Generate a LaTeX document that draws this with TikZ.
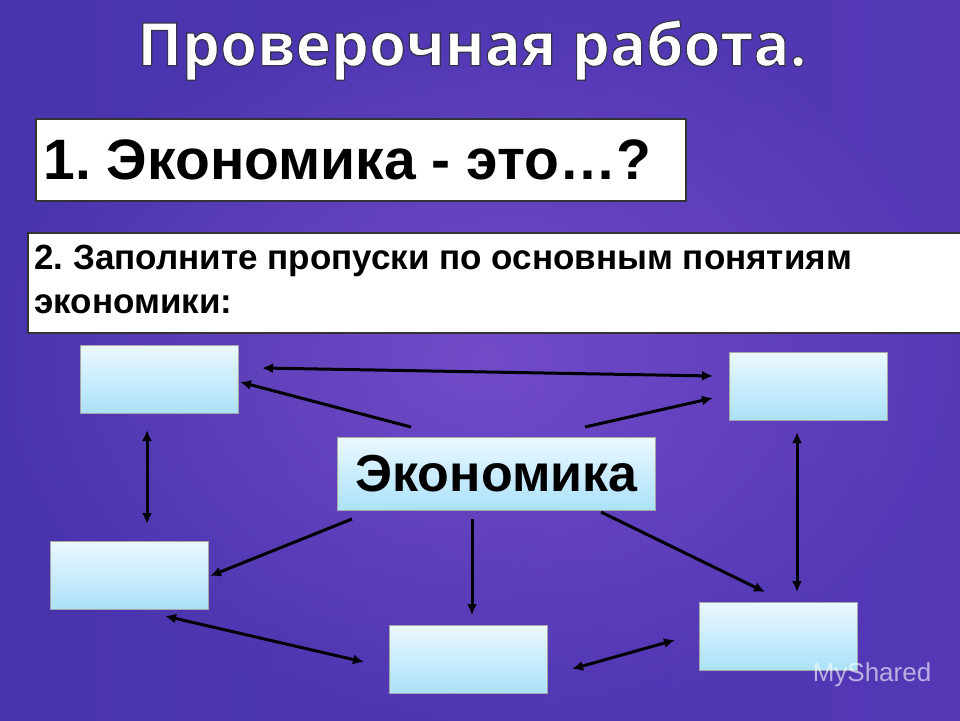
\documentclass[tikz,border=0pt]{standalone}
\usepackage{fontspec}
\setmainfont{Liberation Sans}
\newfontfamily\titlefont{Open Sans}
\usetikzlibrary{arrows.meta}
\begin{document}
\begin{tikzpicture}[x=1pt,y=-1pt,
  cell/.style={draw=gray!70,line width=1pt,top color={rgb,255:red,235;green,248;blue,255},bottom color={rgb,255:red,170;green,225;blue,250},minimum width=158pt,minimum height=68pt,anchor=north west,inner sep=0pt},
  conn/.style={draw=black,line width=3pt,-{Latex[length=11pt,width=10pt]}},
  dconn/.style={draw=black,line width=3pt,{Latex[length=11pt,width=10pt]}-{Latex[length=11pt,width=10pt]}}]
\useasboundingbox (0,0) rectangle (960,720);
\shade[left color={rgb,255:red,60;green,45;blue,160},right color={rgb,255:red,95;green,60;blue,190}] (0,0) rectangle (960,720);
\shade[inner color={rgb,255:red,130;green,85;blue,210},outer color={rgb,255:red,80;green,55;blue,180},opacity=0.7] (0,0) rectangle (960,720);
\node[font=\titlefont\bfseries\fontsize{60}{64}\selectfont,text=white,draw=none] (title) at (472,50) {\special{pdf:literal 2 Tr 1.2 w 0.2 0.2 0.3 RG}Проверочная работа.\special{pdf:literal 0 Tr}};
\node[draw=black!80,line width=1.5pt,fill=white,minimum width=650pt,minimum height=82pt,anchor=north west,inner sep=0pt] (q1) at (35,118) {};
\node[anchor=west,font=\bfseries\fontsize{57}{60}\selectfont] at (40,160) {1.~Экономика - это…?};
\node[draw=black!80,line width=1.5pt,fill=white,minimum width=933pt,minimum height=100pt,anchor=north west,inner sep=0pt] (q2) at (27,232) {};
\node[anchor=north west,align=left,font=\bfseries\fontsize{35}{44}\selectfont] at (31,242) {2.~Заполните пропуски по основным понятиям\\экономики:};
\node[cell] (A) at (80,345) {};
\node[cell] (B) at (729,352) {};
\node[cell] (C) at (50,541) {};
\node[cell] (D) at (389,625) {};
\node[cell] (E) at (699,602) {};
\node[cell,minimum width=318pt,minimum height=73pt,font=\bfseries\fontsize{52}{56}\selectfont] (M) at (337,437) {Экономика};
\coordinate (a1) at (262,368); \coordinate (a2) at (713,376);
\draw[dconn] (a1) -- (a2);
\coordinate (m1) at (411,427); \coordinate (m1e) at (240,382);
\draw[conn] (m1) -- (m1e);
\coordinate (m2) at (585,427); \coordinate (m2e) at (713,398);
\draw[conn] (m2) -- (m2e);
\coordinate (v1) at (147,430); \coordinate (v2) at (147,524);
\draw[dconn] (v1) -- (v2);
\coordinate (w1) at (797,432); \coordinate (w2) at (797,592);
\draw[dconn] (w1) -- (w2);
\coordinate (m3) at (352,519); \coordinate (m3e) at (210,576);
\draw[conn] (m3) -- (m3e);
\coordinate (m4) at (472,519); \coordinate (m4e) at (472,615);
\draw[conn] (m4) -- (m4e);
\coordinate (m5) at (601,512); \coordinate (m5e) at (765,592);
\draw[conn] (m5) -- (m5e);
\coordinate (c1) at (165,616); \coordinate (c2) at (364,662);
\draw[dconn] (c1) -- (c2);
\coordinate (d1) at (572,669); \coordinate (d2) at (675,640);
\draw[dconn] (d1) -- (d2);
\node[text=white,opacity=0.6,font=\fontsize{26}{28}\selectfont] (wm) at (872,675) {MyShared};
\end{tikzpicture}
\end{document}
